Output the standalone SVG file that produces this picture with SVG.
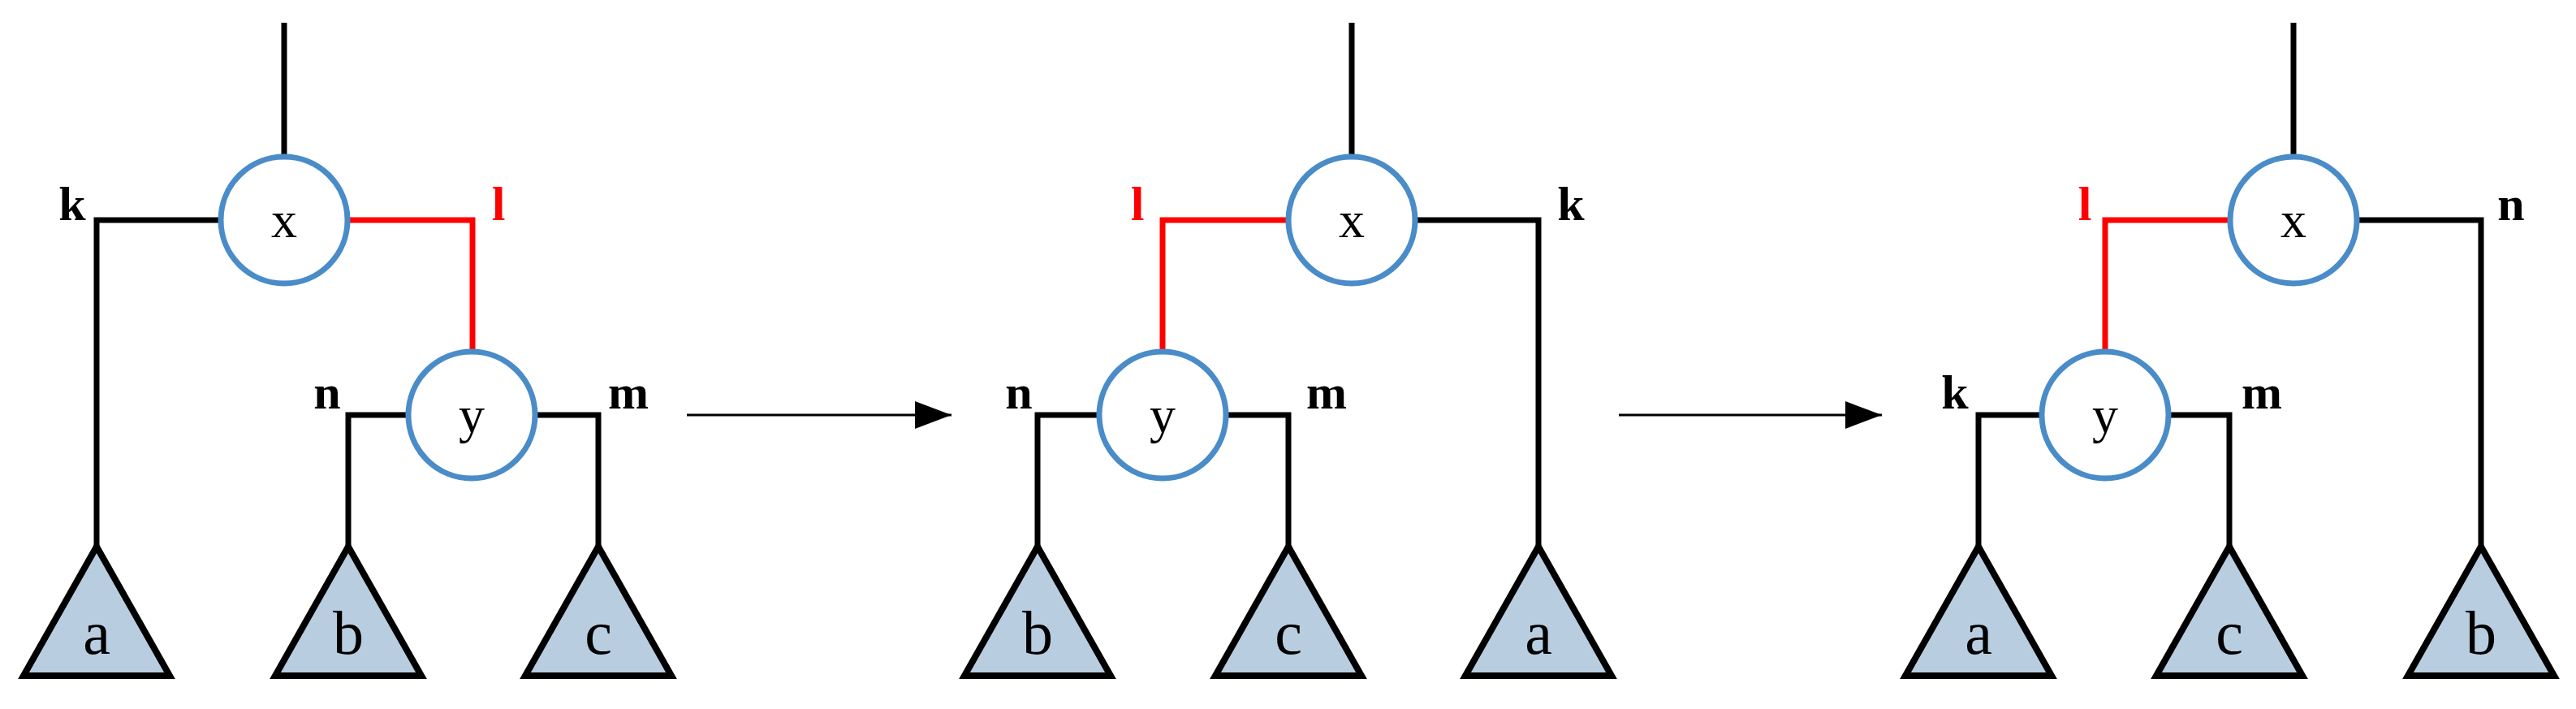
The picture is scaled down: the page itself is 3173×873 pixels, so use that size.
<svg xmlns="http://www.w3.org/2000/svg" width="3173" height="873" viewBox="0 0 3173 873">
<style>
.e{fill:none;stroke:#000;stroke-width:7;stroke-linejoin:miter}
.r{fill:none;stroke:#f00;stroke-width:7}
.c{fill:#fff;stroke:#4a8cc8;stroke-width:7}
.t{fill:#b8cde0;stroke:#000;stroke-width:8;stroke-linejoin:miter}
.nl{font-family:"Liberation Serif",serif;font-size:64px;text-anchor:middle}
.tl{font-family:"Liberation Serif",serif;font-size:76px;text-anchor:middle}
.bl{font-family:"Liberation Serif",serif;font-size:60px;font-weight:bold;text-anchor:middle}
.a{stroke:#000;stroke-width:3}
</style>
<defs><marker id="ah" markerWidth="16" markerHeight="12" refX="15" refY="6" orient="auto" markerUnits="userSpaceOnUse" viewBox="0 0 16 12"><path d="M0,0 L16,6 L0,12 Z"/></marker>
<marker id="ah2" viewBox="0 0 45 34" refX="45" refY="17" markerWidth="45" markerHeight="34" markerUnits="userSpaceOnUse" orient="auto"><path d="M0,0 L45,17 L0,34 Z"/></marker></defs>
<g id="connectors">
<!-- tree 1 -->
<path class="e" d="M350,28 V193"/>
<path class="e" d="M272,271 H119 V673"/>
<path class="r" d="M428,271 H582 V433"/>
<path class="e" d="M503,511 H429 V673"/>
<path class="e" d="M659,511 H737 V673"/>
<!-- tree 2 -->
<path class="e" d="M1665,28 V193"/>
<path class="e" d="M1743,271 H1895 V673"/>
<path class="r" d="M1587,271 H1432 V433"/>
<path class="e" d="M1354,511 H1278 V673"/>
<path class="e" d="M1510,511 H1587 V673"/>
<!-- tree 3 -->
<path class="e" d="M2825,28 V193"/>
<path class="e" d="M2903,271 H3056 V673"/>
<path class="r" d="M2747,271 H2593 V433"/>
<path class="e" d="M2515,511 H2437 V673"/>
<path class="e" d="M2671,511 H2746 V673"/>
<line class="a" x1="846" y1="511" x2="1172" y2="511" marker-end="url(#ah2)"/>
<line class="a" x1="1994" y1="511" x2="2318" y2="511" marker-end="url(#ah2)"/>
</g>
<g id="labels">
<text class="bl" x="89" y="271">k</text>
<text class="bl" x="614" y="271" fill="#f00">l</text>
<text class="bl" x="403" y="503">n</text>
<text class="bl" x="774" y="503">m</text>
<text class="bl" x="1401" y="271" fill="#f00">l</text>
<text class="bl" x="1935" y="271">k</text>
<text class="bl" x="1255" y="503">n</text>
<text class="bl" x="1634" y="503">m</text>
<text class="bl" x="2568" y="271" fill="#f00">l</text>
<text class="bl" x="3093" y="271">n</text>
<text class="bl" x="2408" y="503">k</text>
<text class="bl" x="2786" y="503">m</text>
</g>
<g id="x1"><circle class="c" cx="350" cy="271" r="78"/><text class="nl" x="350" y="292">x</text></g>
<g id="y1"><circle class="c" cx="581" cy="511" r="78"/><text class="nl" x="581" y="532">y</text></g>
<g id="a1"><polygon class="t" points="119,673 29,832 209,832"/><text class="tl" x="119" y="805">a</text></g>
<g id="b1"><polygon class="t" points="429,673 339,832 519,832"/><text class="tl" x="429" y="805">b</text></g>
<g id="c1"><polygon class="t" points="737,673 647,832 827,832"/><text class="tl" x="737" y="805">c</text></g>
<g id="x2"><circle class="c" cx="1665" cy="271" r="78"/><text class="nl" x="1665" y="292">x</text></g>
<g id="y2"><circle class="c" cx="1432" cy="511" r="78"/><text class="nl" x="1432" y="532">y</text></g>
<g id="b2"><polygon class="t" points="1278,673 1188,832 1368,832"/><text class="tl" x="1278" y="805">b</text></g>
<g id="c2"><polygon class="t" points="1587,673 1497,832 1677,832"/><text class="tl" x="1587" y="805">c</text></g>
<g id="a2"><polygon class="t" points="1895,673 1805,832 1985,832"/><text class="tl" x="1895" y="805">a</text></g>
<g id="x3"><circle class="c" cx="2825" cy="271" r="78"/><text class="nl" x="2825" y="292">x</text></g>
<g id="y3"><circle class="c" cx="2593" cy="511" r="78"/><text class="nl" x="2593" y="532">y</text></g>
<g id="a3"><polygon class="t" points="2437,673 2347,832 2527,832"/><text class="tl" x="2437" y="805">a</text></g>
<g id="c3"><polygon class="t" points="2746,673 2656,832 2836,832"/><text class="tl" x="2746" y="805">c</text></g>
<g id="b3"><polygon class="t" points="3056,673 2966,832 3146,832"/><text class="tl" x="3056" y="805">b</text></g>
</svg>
